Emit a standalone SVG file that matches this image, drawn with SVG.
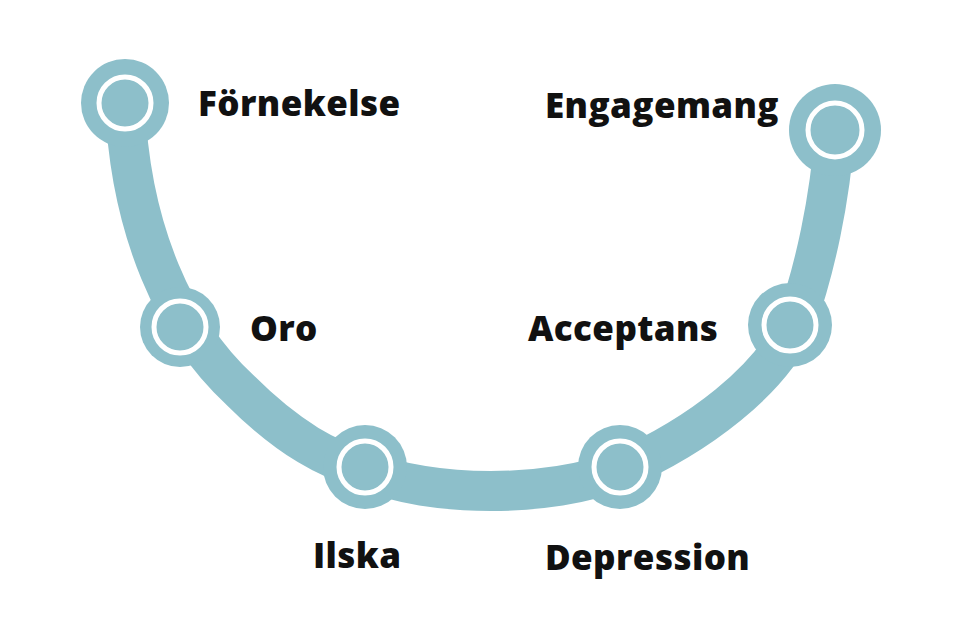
<svg xmlns="http://www.w3.org/2000/svg" width="980" height="635" viewBox="0 0 980 635">
<style>
.t{font-family:"Open Sans","Liberation Sans",sans-serif;font-weight:800;font-size:35px;letter-spacing:0.4px;fill:#111}
.o{fill:#8dbfca}
.r{fill:#8dbfca;stroke:#fff;stroke-width:5}
</style>
<rect width="980" height="635" fill="#fff"/>
<g id="connectors"><path d="M125,103 C130,230 175,330 240,390 C290,440 330,460 365,470 C430,498 550,498 620,470 C700,435 770,380 795,325 C815,270 830,200 835,130" fill="none" stroke="#8dbfca" stroke-width="40"/></g>
<g id="n1"><circle class="o" cx="125" cy="103" r="44"/><circle class="r" cx="125" cy="103" r="26"/><text class="t" x="198" y="116">Förnekelse</text></g>
<g id="n2"><circle class="o" cx="180" cy="327" r="40"/><circle class="r" cx="180" cy="327" r="26"/><text class="t" x="250" y="341">Oro</text></g>
<g id="n3"><circle class="o" cx="365" cy="467" r="42"/><circle class="r" cx="365" cy="467" r="26"/><text class="t" x="313" y="568">Ilska</text></g>
<g id="n4"><circle class="o" cx="620" cy="467" r="42"/><circle class="r" cx="620" cy="467" r="26"/><text class="t" x="545" y="570">Depression</text></g>
<g id="n5"><circle class="o" cx="790" cy="325" r="42"/><circle class="r" cx="790" cy="325" r="26"/><text class="t" x="528" y="341">Acceptans</text></g>
<g id="n6"><circle class="o" cx="835" cy="130" r="46"/><circle class="r" cx="835" cy="130" r="27"/><text class="t" x="545" y="118">Engagemang</text></g>
</svg>
